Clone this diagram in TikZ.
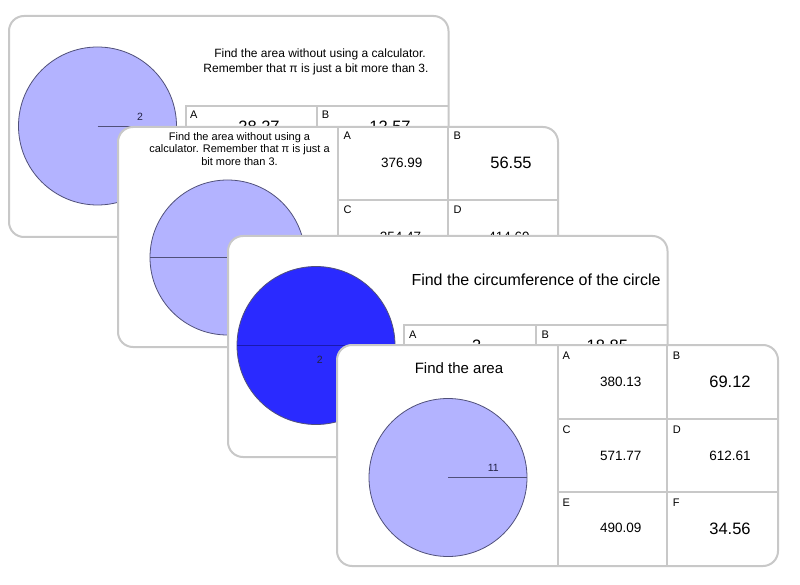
\documentclass[tikz,border=0pt]{standalone}
\usepackage{fontspec}
\setmainfont{Liberation Sans}
\definecolor{cardline}{HTML}{C8C8C8}
\definecolor{lightdisc}{HTML}{B3B3FF}
\definecolor{darkdisc}{HTML}{2A2AFF}
\definecolor{discedge}{HTML}{50507A}
\definecolor{darkline}{HTML}{1A1AB0}
\definecolor{lbltext}{HTML}{222244}
\begin{document}
\begin{tikzpicture}[x=1pt,y=-1pt,
  card/.style={draw=cardline,line width=2pt,fill=white,rounded corners=15pt},
  gridline/.style={draw=cardline,line width=1.5pt},
  disc/.style={fill=lightdisc,draw=discedge,line width=0.8pt},
  radline/.style={draw=discedge,line width=0.9pt},
  cell/.style={inner sep=0pt,anchor=base west,font=\fontsize{11}{13}\selectfont},
  num/.style={inner sep=0pt,anchor=base,font=\fontsize{13.5}{16}\selectfont},
  bignum/.style={inner sep=0pt,anchor=base,font=\fontsize{16.5}{19}\selectfont},
  ttlA/.style={inner sep=0pt,anchor=base,font=\fontsize{12}{14}\selectfont},
  ttlB/.style={inner sep=0pt,anchor=base,font=\fontsize{11}{13}\selectfont},
  ttlC/.style={inner sep=0pt,anchor=base,font=\fontsize{15}{18}\selectfont},
  ttlD/.style={inner sep=0pt,anchor=base,font=\fontsize{16}{19}\selectfont},
  disclbl/.style={inner sep=0pt,anchor=base,text=lbltext,font=\fontsize{10.5}{12}\selectfont}]
\fill[white] (0,0) rectangle (800,585);
\useasboundingbox (0,0) rectangle (800,585);

% ---------- card 1 ----------
\draw[card] (9,16) rectangle (448.5,237);
\draw[disc] (97.5,126) circle[radius=79];
\draw[radline] (97.5,126) -- (176.5,126);
\node[disclbl] (c1r) at (140,120.7) {2};
\node[ttlA] (c1t1) at (320,57.5) {Find the area without using a calculator.};
\node[ttlA] (c1t2) at (316,72.5) {Remember that π is just a bit more than 3.};
\draw[gridline] (186,237) -- (186,106) -- (448.5,106);
\draw[gridline] (317,106) -- (317,237);
\node[cell] (c1a) at (190,119) {A};
\node[cell] (c1b) at (321.7,119) {B};
\node[bignum] (c1va) at (259,132.2) {28.27};
\node[bignum] (c1vb) at (390,132.2) {12.57};

% ---------- card 2 ----------
\draw[card] (118,127) rectangle (558,347);
\draw[disc] (227.5,257.5) circle[radius=77.5];
\draw[radline] (150,257.5) -- (305,257.5);
\node[ttlB] (c2t1) at (239.5,140.7) {Find the area without using a};
\node[ttlB] (c2t2) at (239.5,153) {calculator. Remember that π is just a};
\node[ttlB] (c2t3) at (239.5,165.3) {bit more than 3.};
\draw[gridline] (338,127) -- (338,347);
\draw[gridline] (448,127) -- (448,347);
\draw[gridline] (338,200) -- (558,200);
\draw[gridline] (338,273) -- (558,273);
\node[cell] (c2a) at (343.3,139.3) {A};
\node[cell] (c2b) at (453.3,139.3) {B};
\node[cell] (c2c) at (343.3,214) {C};
\node[cell] (c2d) at (453.3,214) {D};
\node[num] (c2va) at (401.7,167.3) {376.99};
\node[bignum] (c2vb) at (511,168.3) {56.55};
\node[num] (c2vc) at (400.5,241.7) {254.47};
\node[num] (c2vd) at (509,241.7) {414.69};

% ---------- card 3 ----------
\draw[card] (228,236) rectangle (667.5,457);
\draw[disc,fill=darkdisc] (316,345.5) circle[radius=79];
\draw[draw=darkline,line width=1pt] (237,345) -- (395,345);
\node[disclbl] (c3r) at (319.7,363.3) {2};
\node[ttlD] (c3t) at (536,285) {Find the circumference of the circle};
\draw[gridline] (404,457) -- (404,325) -- (667.5,325);
\draw[gridline] (536,325) -- (536,457);
\node[cell] (c3a) at (409,338) {A};
\node[cell] (c3b) at (541.3,338) {B};
\node[bignum] (c3va) at (476.7,351) {3};
\node[bignum] (c3vb) at (607.3,351) {18.85};

% ---------- card 4 ----------
\draw[card] (337,345) rectangle (778,566);
\node[ttlC] (c4t) at (459,373.3) {Find the area};
\draw[disc] (448,477.5) circle[radius=79];
\draw[radline] (448,477) -- (527,477);
\node[disclbl] (c4r) at (493.3,471.7) {11};
\draw[gridline] (558,345) -- (558,566);
\draw[gridline] (667,345) -- (667,566);
\draw[gridline] (558,419) -- (778,419);
\draw[gridline] (558,492) -- (778,492);
\node[cell] (c4a) at (562.5,359.3) {A};
\node[cell] (c4b) at (672.7,359.3) {B};
\node[cell] (c4c) at (562.5,433.3) {C};
\node[cell] (c4d) at (672.7,433.3) {D};
\node[cell] (c4e) at (562.5,506.7) {E};
\node[cell] (c4f) at (672.7,506.7) {F};
\node[num] (c4va) at (620.8,386.7) {380.13};
\node[bignum] (c4vb) at (730,387.7) {69.12};
\node[num] (c4vc) at (620.8,460) {571.77};
\node[num] (c4vd) at (730,460) {612.61};
\node[num] (c4ve) at (620.8,532.7) {490.09};
\node[bignum] (c4vf) at (730,534) {34.56};
\end{tikzpicture}
\end{document}
